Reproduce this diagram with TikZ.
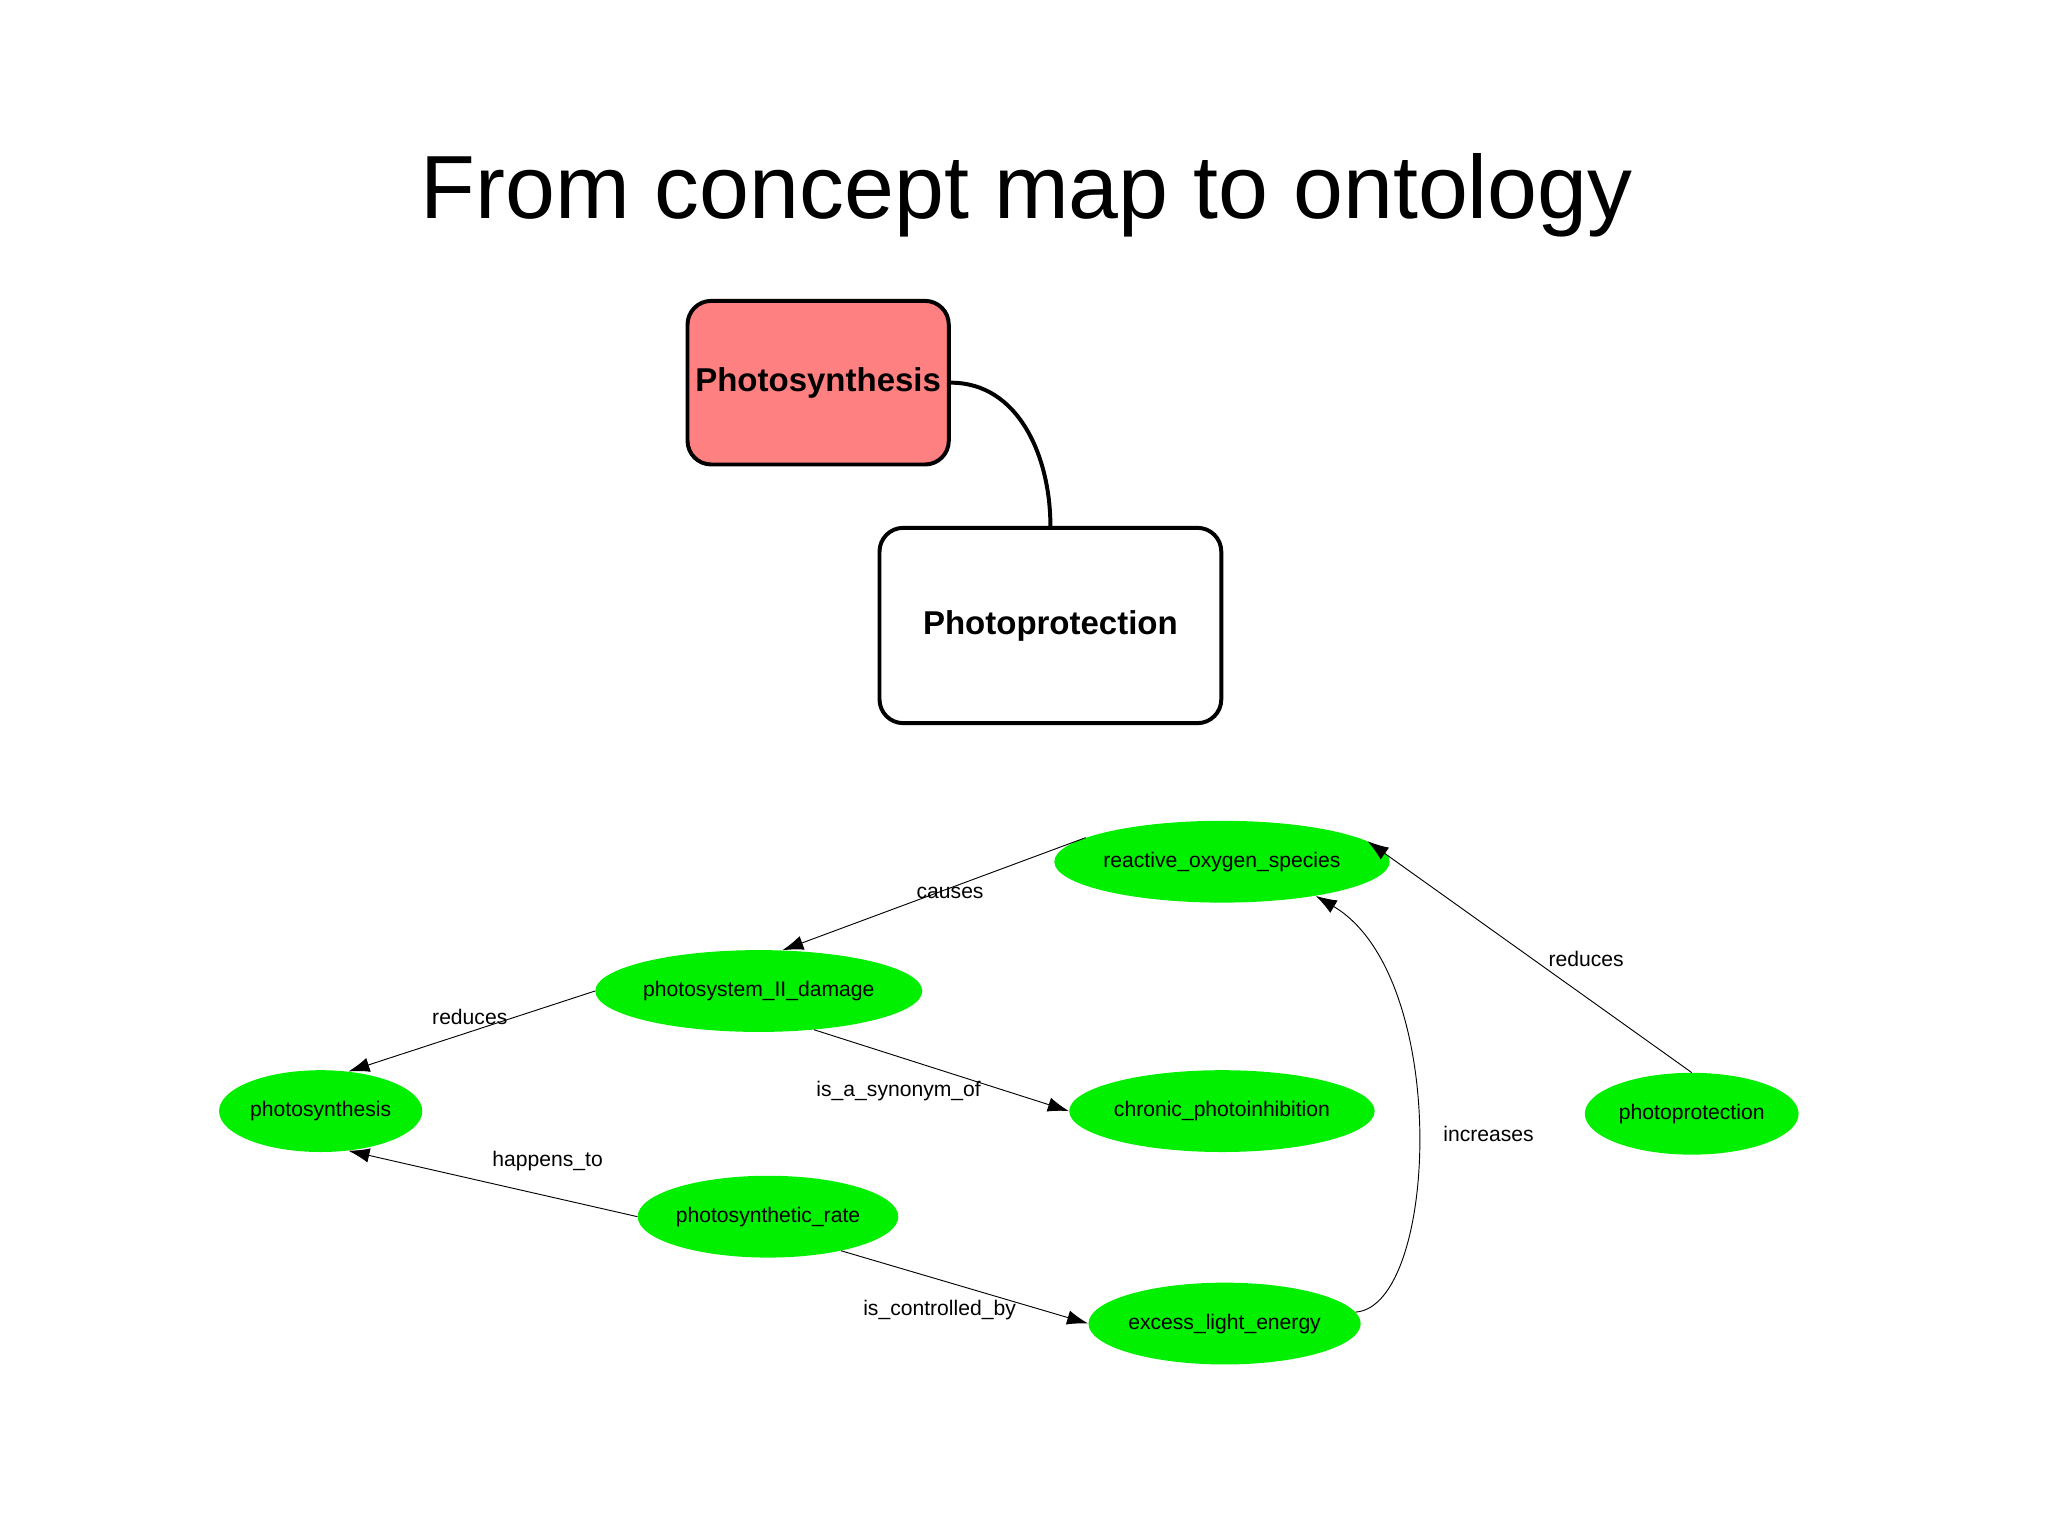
\documentclass[tikz,border=0pt]{standalone}
\usepackage{fontspec}
\setmainfont{Liberation Sans}
\usetikzlibrary{arrows.meta,shapes.geometric}
\begin{document}
\begin{tikzpicture}[x=1pt,y=-1pt,
  ell/.style={ellipse,fill={rgb,255:red,0;green,240;blue,0},inner sep=0pt,font=\fontsize{16}{18}\selectfont},
  rel/.style={-{Latex[length=16pt,width=11pt]},line width=0.7pt},
  lbl/.style={font=\fontsize{16}{18}\selectfont},
  cbox/.style={draw,line width=3pt,rounded corners=18pt,font=\bfseries\fontsize{25}{28}\selectfont}]
\useasboundingbox (0,0) rectangle (1552,1164);
\node[font=\fontsize{68}{80}\selectfont] (title) at (778,148) {From concept map to ontology};
\node[cbox,fill={rgb,255:red,255;green,128;blue,128},minimum width=198pt,minimum height=124pt,inner sep=0pt] (A) at (620,290) {Photosynthesis};
\node[cbox,fill=white,minimum width=259pt,minimum height=148pt] (B) at (796,474) {Photoprotection};
\draw[line width=3pt] (A.east) to[out=0,in=90] (B.north);

\node[ell,minimum width=236pt,minimum height=62pt] (ros) at (926,653) {reactive\_oxygen\_species};
\node[ell,minimum width=232pt,minimum height=62pt] (ps2) at (575,751) {photosystem\_II\_damage};
\node[ell,minimum width=154pt,minimum height=62pt] (ps) at (243,842) {photosynthesis};
\node[ell,minimum width=220pt,minimum height=62pt] (chr) at (926,842) {chronic\_photoinhibition};
\node[ell,minimum width=162pt,minimum height=62pt] (pp) at (1282,844) {photoprotection};
\node[ell,minimum width=190pt,minimum height=62pt] (rate) at (582,922) {photosynthetic\_rate};
\node[ell,minimum width=200pt,minimum height=62pt] (ex) at (928,1003) {excess\_light\_energy};

\draw[rel] (ros.170) -- (ps2.60);
\draw[rel] (ps2.180) -- (ps.55);
\draw[rel] (ps2.-35) -- (chr.180);
\draw[rel] (rate.180) -- (ps.-55);
\draw[rel] (rate.-25) -- (ex.180);
\draw[rel] (pp.north) -- (ros.8);
\draw[rel] (ex.5) .. controls (1090,990) and (1100,740) .. (ros.-20);

\node[lbl] (l1) at (720,677) {causes};
\node[lbl] (l2) at (356,771) {reduces};
\node[lbl] (l3) at (681,827) {is\_a\_synonym\_of};
\node[lbl] (l4) at (415,880) {happens\_to};
\node[lbl] (l5) at (712,993) {is\_controlled\_by};
\node[lbl] (l6) at (1128,859) {increases};
\node[lbl] (l7) at (1202,727) {reduces};
\end{tikzpicture}
\end{document}
